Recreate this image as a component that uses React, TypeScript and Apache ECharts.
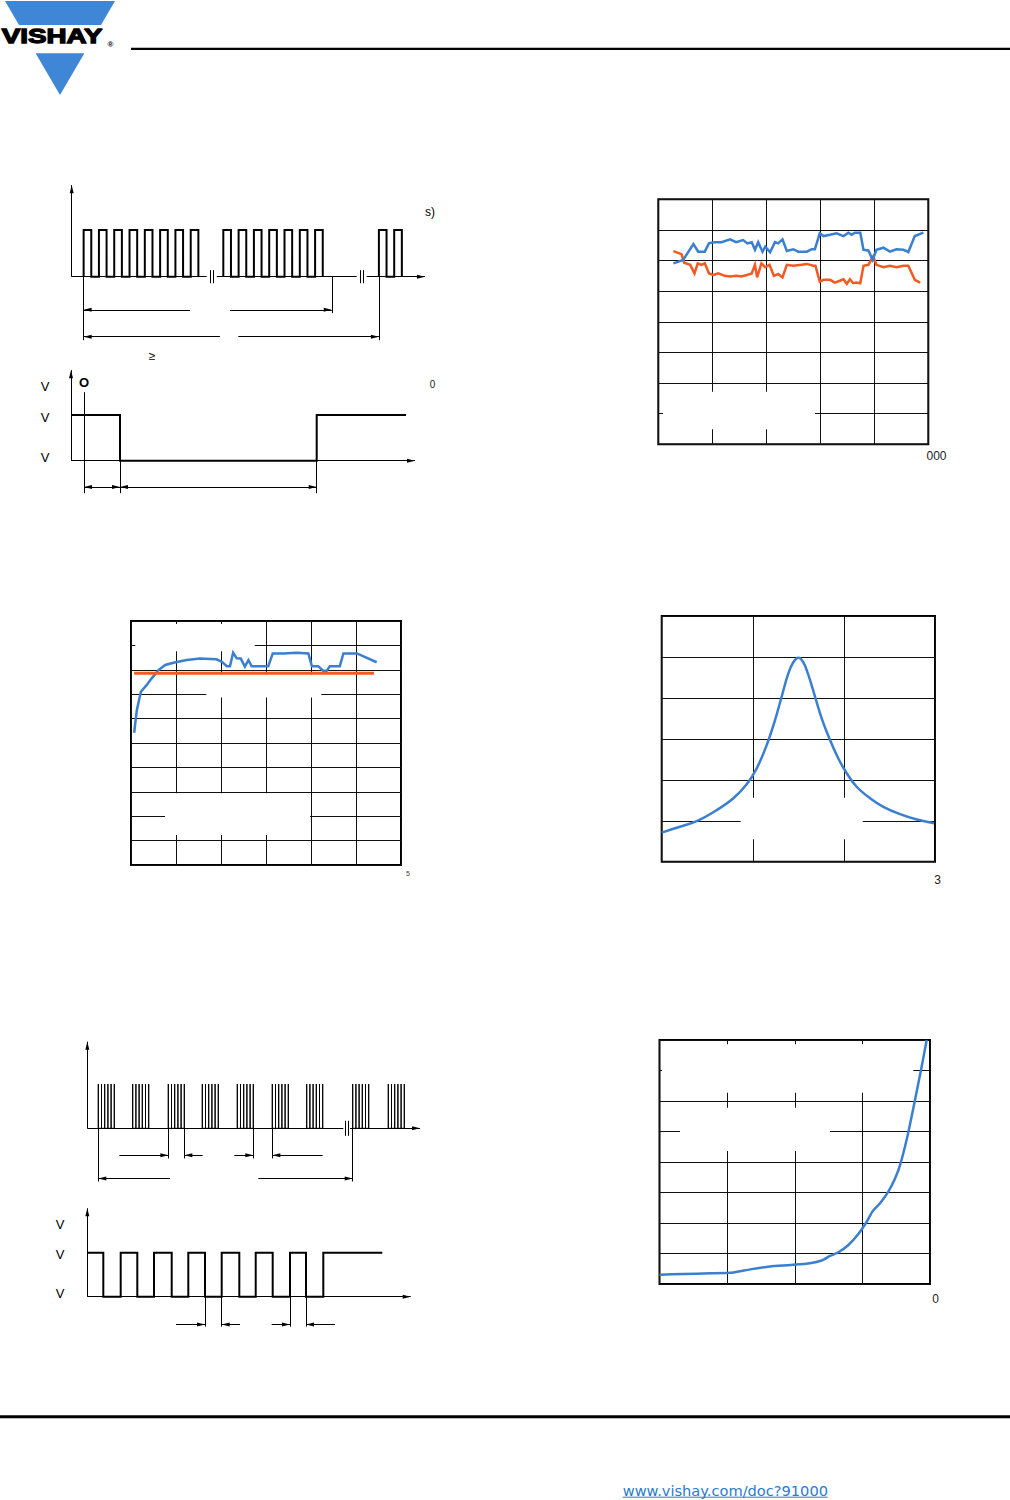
import React, { useEffect, useRef } from "react";
import * as echarts from "echarts";

// ---------- Chart A (top right): two channels ----------
const blueA: [number, number][] = [
  [0.28, 5.91], [0.46, 6.02], [0.65, 6.54], [0.74, 6.29], [0.86, 6.29], [0.94, 6.57], [1.05, 6.6], [1.17, 6.6],
  [1.33, 6.69], [1.44, 6.6], [1.57, 6.67], [1.65, 6.56], [1.73, 6.6], [1.79, 6.35], [1.85, 6.6], [1.93, 6.29],
  [1.98, 6.45], [2.07, 6.27], [2.16, 6.6], [2.22, 6.56], [2.3, 6.69], [2.38, 6.31], [2.5, 6.37], [2.59, 6.29],
  [2.75, 6.29], [2.84, 6.37], [2.9, 6.37], [2.99, 6.89], [3.06, 6.8], [3.18, 6.84], [3.3, 6.89], [3.43, 6.8],
  [3.52, 6.91], [3.58, 6.84], [3.64, 6.91], [3.74, 6.91], [3.8, 6.35], [3.89, 6.33], [3.97, 6.02], [4.04, 6.35],
  [4.17, 6.42], [4.29, 6.29], [4.41, 6.37], [4.54, 6.35], [4.63, 6.28], [4.75, 6.8], [4.91, 6.91],
];
const orangeA: [number, number][] = [
  [0.28, 6.31], [0.43, 6.21], [0.48, 5.93], [0.59, 5.86], [0.67, 5.58], [0.73, 5.91], [0.8, 5.86], [0.86, 5.91],
  [0.94, 5.58], [1.02, 5.53], [1.11, 5.58], [1.23, 5.5], [1.33, 5.48], [1.45, 5.5], [1.54, 5.48], [1.64, 5.53],
  [1.73, 5.58], [1.79, 5.86], [1.83, 5.45], [1.91, 5.91], [1.98, 5.78], [2.06, 5.86], [2.14, 5.5], [2.22, 5.56],
  [2.3, 5.45], [2.38, 5.86], [2.5, 5.83], [2.65, 5.86], [2.75, 5.89], [2.87, 5.83], [2.91, 5.83], [2.99, 5.31],
  [3.06, 5.37], [3.18, 5.37], [3.27, 5.28], [3.36, 5.34], [3.43, 5.39], [3.49, 5.24], [3.55, 5.39], [3.61, 5.26],
  [3.67, 5.28], [3.74, 5.26], [3.8, 5.83], [3.89, 5.86], [3.98, 6.14], [4.04, 5.86], [4.17, 5.78], [4.29, 5.83],
  [4.41, 5.78], [4.54, 5.83], [4.63, 5.83], [4.75, 5.37], [4.85, 5.28],
];

// ---------- Chart B (middle left) ----------
const blueB: [number, number][] = [
  [0.07, 5.42], [0.13, 6.35], [0.22, 7.1], [0.35, 7.38], [0.46, 7.65], [0.61, 7.99], [0.76, 8.2], [0.94, 8.29],
  [1.24, 8.4], [1.53, 8.46], [1.76, 8.44], [1.9, 8.43], [2.02, 8.33], [2.13, 8.15], [2.2, 8.15], [2.27, 8.7],
  [2.35, 8.47], [2.44, 8.46], [2.53, 8.13], [2.61, 8.4], [2.68, 8.15], [2.79, 8.15], [3.05, 8.15], [3.15, 8.67],
  [3.39, 8.67], [3.68, 8.7], [3.94, 8.67], [4.02, 8.15], [4.16, 8.15], [4.27, 7.96], [4.35, 7.96], [4.42, 8.15],
  [4.64, 8.15], [4.72, 8.67], [5.02, 8.67], [5.46, 8.31],
];
const orangeB: [number, number][] = [[0.07, 7.86], [5.4, 7.86]];

// ---------- Chart C (middle right) ----------
const blueC: [number, number][] = [
  [0, 0.71], [0.165, 0.83], [0.384, 0.99], [0.604, 1.26], [0.787, 1.55], [0.933, 1.89], [1.043, 2.28],
  [1.153, 2.85], [1.244, 3.46], [1.317, 4.03], [1.39, 4.6], [1.445, 4.87], [1.5, 4.98], [1.555, 4.87],
  [1.61, 4.56], [1.683, 4.03], [1.756, 3.5], [1.848, 2.97], [1.939, 2.52], [2.031, 2.16], [2.14, 1.83],
  [2.287, 1.55], [2.433, 1.34], [2.616, 1.16], [2.8, 1.03], [2.99, 0.94],
];

// ---------- Chart D (bottom right) ----------
const blueD: [number, number][] = [
  [0, 0.3], [0.355, 0.33], [0.749, 0.35], [1.094, 0.38], [1.34, 0.48], [1.635, 0.57], [1.931, 0.62],
  [2.227, 0.68], [2.399, 0.77], [2.522, 0.92], [2.645, 1.04], [2.793, 1.28], [2.941, 1.64], [3.064, 2.04],
  [3.153, 2.39], [3.261, 2.65], [3.384, 3.03], [3.483, 3.46], [3.557, 3.9], [3.665, 4.83], [3.778, 6.03],
  [3.877, 7.13], [3.951, 8.0],
];

// ---------- Timing diagram 1 (carrier bursts) ----------
const td1BurstStarts = [0.78, 9.91, 20.08];
const td1BurstCounts = [8, 7, 2];
const td1Period = 1;
const td1PulseWidth = 0.5;
const td1AxisTop = 1.96;
const td1BaseSegments: [number, number][] = [[0, 8.82], [9.48, 18.63], [19.28, 23.09]];
const td1BreakX = [9.05, 9.27, 18.84, 19.06];
const td1Verticals: [number, number][] = [[0.78, -1.36], [17.0, -0.78], [20.08, -1.36]];
const td1Dims: number[][] = [
  [0.78, 7.73, -0.71, 1, 0], [10.35, 17.0, -0.71, 0, 1],
  [0.78, 9.69, -1.285, 1, 0], [10.89, 20.08, -1.285, 0, 1],
];

// ---------- Timing diagram 2 (output) ----------
const td2Falls = [4.9];
const td2Rises = [24.57];
const td2End = 33.5;
const td2AxisTop = 1.98;
const td2BaseEnd = 34.4;
const td2Verticals: [number, number, number][] = [[1.3, 1.5, -0.71], [4.9, 0, -0.71], [24.57, 0, -0.71]];
const td2Dims: number[][] = [[1.3, 4.9, -0.575, 1, 1], [4.9, 24.57, -0.575, 1, 1]];

// ---------- Timing diagram 3 (short bursts) ----------
const td3BurstStarts = [1.1, 4.54, 8.1, 11.5, 15.0, 18.5, 21.94, 26.54, 30.1];
const td3SpikesPerBurst = 6;
const td3SpikeSpacing = 0.32;
const td3AxisTop = 1.955;
const td3BaseSegments: [number, number][] = [[0, 25.6], [26.27, 33.27]];
const td3BreakX = [25.77, 26.1];
const td3Verticals: [number, number][] = [[1.1, -1.2], [8.1, -0.68], [9.7, -0.68], [16.6, -0.68], [18.5, -0.68], [26.54, -1.2]];
const td3Dims: number[][] = [
  [3.2, 8.1, -0.61, 0, 1], [9.7, 11.54, -0.61, 1, 0], [14.7, 16.6, -0.61, 0, 1], [18.5, 23.54, -0.61, 1, 0],
  [1.1, 8.27, -1.13, 1, 0], [17.1, 26.54, -1.13, 0, 1],
];

// ---------- Timing diagram 4 (output pulses) ----------
const td4Falls = [1.6, 5.0, 8.44, 11.77, 15.2, 18.54, 21.87];
const td4Rises = [3.34, 6.67, 10.1, 13.44, 16.84, 20.27, 23.6];
const td4End = 29.5;
const td4AxisTop = 2.01;
const td4BaseEnd = 32.34;
const td4Verticals: [number, number][] = [[11.77, -0.68], [13.44, -0.68], [20.27, -0.68], [21.87, -0.68]];
const td4Dims: number[][] = [
  [8.87, 11.77, -0.63, 0, 1], [13.44, 15.27, -0.63, 1, 0], [18.44, 20.27, -0.63, 0, 1], [21.87, 24.77, -0.63, 1, 0],
];

// ---------- styles ----------
const BLUE = "#3a7fd0";
const ORANGE = "#f15a22";
const LOGO_BLUE = "#3f86d6";
const LINK = "#2a7ccc";

type P = [number, number];
const ARROW = { symbol: "triangle", symbolSize: [4, 8], symbolOffset: [0, 4] };
const NONE = { symbol: "none" };

function seg(a: P, b: P, arrowA = false, arrowB = false) {
  return [
    { coord: a, ...(arrowA ? ARROW : NONE) },
    { coord: b, ...(arrowB ? ARROW : NONE) },
  ];
}

function markLines(data: any[]) {
  return {
    silent: true,
    symbol: ["none", "none"],
    label: { show: false },
    emphasis: { disabled: true },
    lineStyle: { color: "#000", width: 1, type: "solid" },
    data,
  };
}

function dimSegs(dims: number[][]) {
  return dims.map((d) => seg([d[0], d[2]], [d[1], d[2]], d[3] === 1, d[4] === 1));
}

function burstPulses(starts: number[], counts: number[], period: number, width: number) {
  const pts: any[] = [];
  starts.forEach((s, i) => {
    for (let k = 0; k < counts[i]; k++) {
      const r = s + k * period;
      pts.push([r, 0], [r, 1], [r + width, 1], [r + width, 0]);
    }
    pts.push(["-", "-"]);
  });
  return pts;
}

function spikeBursts(starts: number[], n: number, spacing: number) {
  const pts: any[] = [];
  starts.forEach((s) => {
    for (let k = 0; k < n; k++) {
      const x = s + k * spacing;
      pts.push([x, 0], [x, 1], [x, 0]);
    }
    pts.push(["-", "-"]);
  });
  return pts;
}

function invertedSignal(falls: number[], rises: number[], end: number) {
  const pts: any[] = [[0, 1]];
  falls.forEach((f, i) => {
    pts.push([f, 1], [f, 0], [rises[i], 0], [rises[i], 1]);
  });
  pts.push([end, 1]);
  return pts;
}

function chartAxis(max: number) {
  return {
    type: "value",
    min: 0,
    max,
    interval: 1,
    axisLine: { show: false },
    axisTick: { show: false },
    axisLabel: { show: false },
    splitLine: { show: true, lineStyle: { color: "#111", width: 1 } },
  };
}

function hiddenAxis(min: number, max: number) {
  return { type: "value", min, max, show: false, splitLine: { show: false } };
}

function txt(x: number, y: number, text: string, font: string, fill = "#000", extra: any = {}) {
  return {
    type: "text",
    z: 10,
    x,
    y,
    ...extra,
    style: {
      text,
      font,
      fill,
      textAlign: "center",
      align: "center",
      textVerticalAlign: "middle",
      verticalAlign: "middle",
    },
  };
}

function cut(x: number, y: number, w: number, h: number) {
  return { type: "rect", z: 1, shape: { x, y, width: w, height: h }, style: { fill: "#fff" } };
}

function hline(x1: number, x2: number, y: number, w: number, color = "#000") {
  return { type: "line", z: 5, shape: { x1, y1: y, x2, y2: y }, style: { stroke: color, lineWidth: w } };
}

function buildOption() {
  const chartGrid = (left: number, top: number, width: number, height: number) => ({
    left, top, width, height,
    show: true,
    borderColor: "#000",
    borderWidth: 2,
    backgroundColor: "transparent",
    containLabel: false,
    outerBoundsMode: "none",
  });
  const plainGrid = (left: number, top: number, width: number, height: number) => ({
    left, top, width, height, show: false, containLabel: false, outerBoundsMode: "none",
  });

  const grid = [
    chartGrid(658.3, 199.3, 270, 245),
    chartGrid(131, 621, 270, 244),
    chartGrid(661.7, 616, 273.3, 245.7),
    chartGrid(659.5, 1040, 270.5, 244),
    plainGrid(71.7, 183.3, 353.4, 158.8),
    plainGrid(71, 369.3, 350, 128),
    plainGrid(87.3, 1039.7, 340, 144),
    plainGrid(87.3, 1206.5, 330, 123.2),
  ];

  const xAxis = [
    { ...chartAxis(5), gridIndex: 0 },
    { ...chartAxis(6), gridIndex: 1 },
    { ...chartAxis(3), gridIndex: 2 },
    { ...chartAxis(4), gridIndex: 3 },
    { ...hiddenAxis(0, 23.1), gridIndex: 4 },
    { ...hiddenAxis(0, 35), gridIndex: 5 },
    { ...hiddenAxis(0, 34), gridIndex: 6 },
    { ...hiddenAxis(0, 33), gridIndex: 7 },
  ];
  const yAxis = [
    { ...chartAxis(8), gridIndex: 0 },
    { ...chartAxis(10), gridIndex: 1 },
    { ...chartAxis(6), gridIndex: 2 },
    { ...chartAxis(8), gridIndex: 3 },
    { ...hiddenAxis(-1.4, 2.0), gridIndex: 4 },
    { ...hiddenAxis(-0.8, 2.0), gridIndex: 5 },
    { ...hiddenAxis(-1.25, 2.0), gridIndex: 6 },
    { ...hiddenAxis(-0.75, 2.05), gridIndex: 7 },
  ];

  const lineSeries = (idx: number, data: any[], color: string, width: number, smooth: any = false) => ({
    type: "line",
    xAxisIndex: idx,
    yAxisIndex: idx,
    data,
    smooth,
    symbol: "none",
    showSymbol: false,
    silent: true,
    lineStyle: { color, width, join: "miter", cap: "butt" },
  });

  // TD1 thin lines
  const td1Lines: any[] = [seg([0, 0], [0, td1AxisTop], false, true)];
  td1BaseSegments.forEach((s, i) => td1Lines.push(seg([s[0], 0], [s[1], 0], false, i === td1BaseSegments.length - 1)));
  td1BreakX.forEach((x) => td1Lines.push(seg([x, -0.14], [x, 0.14])));
  td1Verticals.forEach((v) => td1Lines.push(seg([v[0], 0], [v[0], v[1]])));
  td1Lines.push(...dimSegs(td1Dims));

  // TD2 thin lines
  const td2Lines: any[] = [seg([0, 0], [0, td2AxisTop], false, true), seg([0, 0], [td2BaseEnd, 0], false, true)];
  td2Verticals.forEach((v) => td2Lines.push(seg([v[0], v[1]], [v[0], v[2]])));
  td2Lines.push(...dimSegs(td2Dims));

  // TD3 thin lines
  const td3Lines: any[] = [seg([0, 0], [0, td3AxisTop], false, true)];
  td3BaseSegments.forEach((s, i) => td3Lines.push(seg([s[0], 0], [s[1], 0], false, i === td3BaseSegments.length - 1)));
  td3BreakX.forEach((x) => td3Lines.push(seg([x, -0.17], [x, 0.17])));
  td3Verticals.forEach((v) => td3Lines.push(seg([v[0], 0], [v[0], v[1]])));
  td3Lines.push(...dimSegs(td3Dims));

  // TD4 thin lines
  const td4Lines: any[] = [seg([0, 0], [0, td4AxisTop], false, true), seg([0, 0], [td4BaseEnd, 0], false, true)];
  td4Verticals.forEach((v) => td4Lines.push(seg([v[0], 0], [v[0], v[1]])));
  td4Lines.push(...dimSegs(td4Dims));

  const series = [
    lineSeries(0, orangeA, ORANGE, 2.5),
    lineSeries(0, blueA, BLUE, 2.5),
    lineSeries(1, blueB, BLUE, 2.5),
    lineSeries(1, orangeB, ORANGE, 3),
    lineSeries(2, blueC, BLUE, 2.5, 0.4),
    lineSeries(3, blueD, BLUE, 2.5, 0.2),
    { ...lineSeries(4, burstPulses(td1BurstStarts, td1BurstCounts, td1Period, td1PulseWidth), "#000", 2), markLine: markLines(td1Lines) },
    { ...lineSeries(5, invertedSignal(td2Falls, td2Rises, td2End), "#000", 2), markLine: markLines(td2Lines) },
    { ...lineSeries(6, spikeBursts(td3BurstStarts, td3SpikesPerBurst, td3SpikeSpacing), "#000", 1), markLine: markLines(td3Lines) },
    { ...lineSeries(7, invertedSignal(td4Falls, td4Rises, td4End), "#000", 2), markLine: markLines(td4Lines) },
  ];

  const graphic = [
    // logo
    { type: "polygon", z: 5, shape: { points: [[5, 1], [115, 1], [101, 25], [19, 25]] }, style: { fill: LOGO_BLUE } },
    { type: "polygon", z: 5, shape: { points: [[35.6, 53.3], [84.4, 53.3], [60, 95]] }, style: { fill: LOGO_BLUE } },
    {
      type: "text", z: 6, x: 1.8, y: 36, scaleX: 1.32,
      style: {
        text: "VISHAY", font: 'bold 21px "Liberation Sans"', fill: "#000", stroke: "#000", lineWidth: 1.3,
        textAlign: "left", align: "left", textVerticalAlign: "middle", verticalAlign: "middle",
      },
    },
    txt(110.5, 44.5, "®", 'bold 8px "Liberation Sans"'),
    // rules
    hline(131, 1010, 48.8, 2.2),
    hline(0, 1010, 1416.7, 3),
    // erased label areas
    cut(663, 391.7, 152, 37.6),
    cut(135.3, 624, 119.4, 27.3),
    cut(206.3, 674.5, 115, 23),
    cut(165, 793.3, 145, 41.7),
    cut(740.7, 797.7, 122, 41.6),
    cut(662, 1044.3, 251.3, 48.4),
    cut(680, 1107.7, 150, 43.3),
    // labels
    txt(430, 212, "s)", '12px "Liberation Sans"'),
    txt(152, 356, "≥", '12px "Liberation Sans"'),
    txt(45, 386, "V", '13px "Liberation Sans"'),
    txt(45, 417, "V", '13px "Liberation Sans"'),
    txt(45, 457, "V", '13px "Liberation Sans"'),
    txt(84, 382, "O", 'bold 13px "Liberation Sans"'),
    txt(432.5, 384, "0", '10px "Liberation Sans"', "#222"),
    txt(936.5, 455.5, "000", '12px "Liberation Sans"', "#222"),
    txt(408, 873, "5", '7px "Liberation Sans"', "#444"),
    txt(937.5, 880, "3", '12px "Liberation Sans"', "#222"),
    txt(935.5, 1298.5, "0", '12px "Liberation Sans"', "#222"),
    txt(60, 1224, "V", '13px "Liberation Sans"'),
    txt(60, 1254, "V", '13px "Liberation Sans"'),
    txt(60, 1293, "V", '13px "Liberation Sans"'),
    // link
    {
      type: "text", z: 10, x: 622.7, y: 1490,
      style: {
        text: "www.vishay.com/doc?91000", font: '14.6px "DejaVu Sans"', fill: LINK,
        textAlign: "left", align: "left", textVerticalAlign: "middle", verticalAlign: "middle",
      },
    },
    hline(622.7, 827.7, 1497.2, 1, LINK),
  ];

  return {
    animation: false,
    backgroundColor: "#fff",
    grid,
    xAxis,
    yAxis,
    series,
    graphic,
  };
}

export default function App() {
  const ref = useRef<HTMLDivElement>(null);
  useEffect(() => {
    if (!ref.current) return;
    const chart = echarts.init(ref.current, null, { renderer: "svg" });
    chart.setOption(buildOption() as any);
    return () => chart.dispose();
  }, []);
  return <div ref={ref} style={{ position: "absolute", left: 0, top: 0, width: 1010, height: 1500 }} />;
}
